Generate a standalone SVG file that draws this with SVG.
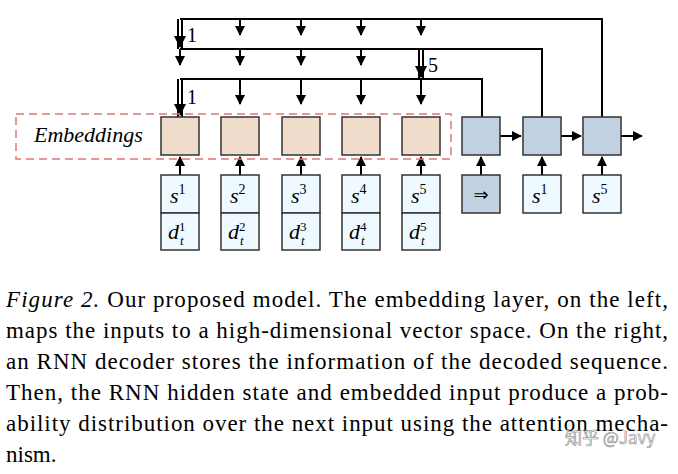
<svg xmlns="http://www.w3.org/2000/svg" width="678" height="474" viewBox="0 0 678 474">
<defs>
<marker id="a" markerWidth="10" markerHeight="10" refX="9" refY="5" orient="auto" markerUnits="userSpaceOnUse"><path d="M0,0 L10,5 L0,10 Z" fill="#000"/></marker>
<marker id="b" markerWidth="12" markerHeight="12" refX="11" refY="6" orient="auto" markerUnits="userSpaceOnUse"><path d="M0,0 L12,6 L0,12 Z" fill="#000"/></marker>
<style>
.l{stroke:#000;stroke-width:2;fill:none}
.e{fill:#efdccb;stroke:#333;stroke-width:1.5}
.d{fill:#c3d2e3;stroke:#333;stroke-width:1.5}
.i{fill:#eefaff;stroke:#333;stroke-width:1.5}
.s{font-family:'Liberation Serif','Times New Roman',serif}
</style>
</defs>
<g id="connectors">
<path class="l" d="M180,19 H602 V117 M180,49 H542 V117 M180,79 H482 V117"/>
<path class="l" d="M178,19 V49 M182,19 V49" /><path class="l" d="M180,37 V47" marker-end="url(#b)"/>
<path class="l" d="M419,49 V79 M423,49 V79"/><path class="l" d="M421,67 V77" marker-end="url(#b)"/>
<path class="l" d="M178,79 V117 M182,79 V117"/><path class="l" d="M180,105 V115" marker-end="url(#b)"/>
<g marker-end="url(#a)">
<path class="l" d="M240,19 V35"/><path class="l" d="M301,19 V35"/><path class="l" d="M361,19 V35"/><path class="l" d="M421,19 V35"/>
<path class="l" d="M180,49 V65"/><path class="l" d="M240,49 V65"/><path class="l" d="M301,49 V65"/><path class="l" d="M361,49 V65"/>
<path class="l" d="M240,79 V104"/><path class="l" d="M301,79 V104"/><path class="l" d="M361,79 V104"/><path class="l" d="M421,79 V104"/>
<path class="l" d="M180,175 V157"/><path class="l" d="M240,175 V157"/><path class="l" d="M301,175 V157"/><path class="l" d="M361,175 V157"/><path class="l" d="M421,175 V157"/>
<path class="l" d="M481,175 V157"/><path class="l" d="M542,175 V157"/><path class="l" d="M602,175 V157"/>
<path class="l" d="M500,136 H521"/><path class="l" d="M561,136 H581"/><path class="l" d="M621,136 H642"/>
</g>
<g class="s" font-size="20">
<text x="187" y="42">1</text>
<text x="428" y="72">5</text>
<text x="187" y="104">1</text>
</g>
</g>
<rect x="16" y="114" width="435" height="45" fill="none" stroke="#d77" stroke-width="1.5" stroke-dasharray="8,5"/>
<g class="s" font-style="italic" font-size="22">
<text x="34" y="142">Embeddings</text>
<g id="emb1"><rect class="e" x="161" y="117" width="38" height="38"/></g>
<g id="emb2"><rect class="e" x="221" y="117" width="38" height="38"/></g>
<g id="emb3"><rect class="e" x="282" y="117" width="38" height="38"/></g>
<g id="emb4"><rect class="e" x="342" y="117" width="38" height="38"/></g>
<g id="emb5"><rect class="e" x="402" y="117" width="38" height="38"/></g>
<g id="dec1"><rect class="d" x="462" y="117" width="38" height="38"/></g>
<g id="dec2"><rect class="d" x="523" y="117" width="38" height="38"/></g>
<g id="dec3"><rect class="d" x="583" y="117" width="38" height="38"/></g>
<g id="in1"><rect class="i" x="161" y="175" width="38" height="38"/><rect class="i" x="161" y="213" width="38" height="37"/><text x="170" y="203">s<tspan font-style="normal" font-size="14" dy="-9">1</tspan></text><text x="168" y="239">d<tspan font-style="normal" font-size="13" dy="-8">1</tspan></text><text x="180" y="245" font-size="13">t</text></g>
<g id="in2"><rect class="i" x="221" y="175" width="38" height="38"/><rect class="i" x="221" y="213" width="38" height="37"/><text x="230" y="203">s<tspan font-style="normal" font-size="14" dy="-9">2</tspan></text><text x="228" y="239">d<tspan font-style="normal" font-size="13" dy="-8">2</tspan></text><text x="240" y="245" font-size="13">t</text></g>
<g id="in3"><rect class="i" x="282" y="175" width="38" height="38"/><rect class="i" x="282" y="213" width="38" height="37"/><text x="291" y="203">s<tspan font-style="normal" font-size="14" dy="-9">3</tspan></text><text x="289" y="239">d<tspan font-style="normal" font-size="13" dy="-8">3</tspan></text><text x="301" y="245" font-size="13">t</text></g>
<g id="in4"><rect class="i" x="342" y="175" width="38" height="38"/><rect class="i" x="342" y="213" width="38" height="37"/><text x="351" y="203">s<tspan font-style="normal" font-size="14" dy="-9">4</tspan></text><text x="349" y="239">d<tspan font-style="normal" font-size="13" dy="-8">4</tspan></text><text x="361" y="245" font-size="13">t</text></g>
<g id="in5"><rect class="i" x="402" y="175" width="38" height="38"/><rect class="i" x="402" y="213" width="38" height="37"/><text x="411" y="203">s<tspan font-style="normal" font-size="14" dy="-9">5</tspan></text><text x="409" y="239">d<tspan font-style="normal" font-size="13" dy="-8">5</tspan></text><text x="421" y="245" font-size="13">t</text></g>
<g id="din1"><rect class="d" x="462" y="175" width="38" height="38"/><text x="481" y="201" text-anchor="middle" font-style="normal" font-family="'DejaVu Sans', sans-serif" font-size="18">⇒</text></g>
<g id="din2"><rect class="i" x="523" y="175" width="38" height="38"/><text x="532" y="203">s<tspan font-style="normal" font-size="14" dy="-9">1</tspan></text></g>
<g id="din3"><rect class="i" x="583" y="175" width="38" height="38"/><text x="592" y="203">s<tspan font-style="normal" font-size="14" dy="-9">5</tspan></text></g>
</g>
<g class="s" font-size="23">
<text x="6" y="307" textLength="662" lengthAdjust="spacing"><tspan font-style="italic">Figure 2.</tspan> Our proposed model. The embedding layer, on the left,</text>
<text x="6" y="338" textLength="662" lengthAdjust="spacing">maps the inputs to a high-dimensional vector space. On the right,</text>
<text x="6" y="369" textLength="662" lengthAdjust="spacing">an RNN decoder stores the information of the decoded sequence.</text>
<text x="6" y="400" textLength="662" lengthAdjust="spacing">Then, the RNN hidden state and embedded input produce a prob-</text>
<text x="6" y="431" textLength="662" lengthAdjust="spacing">ability distribution over the next input using the attention mecha-</text>
<text x="6" y="462">nism.</text>
</g>
<text x="565" y="444" font-family="'Noto Sans CJK SC', sans-serif" font-size="17" fill="#fff" fill-opacity="0.8" stroke="#888" stroke-width="0.6">知乎 @Javy</text>
</svg>
